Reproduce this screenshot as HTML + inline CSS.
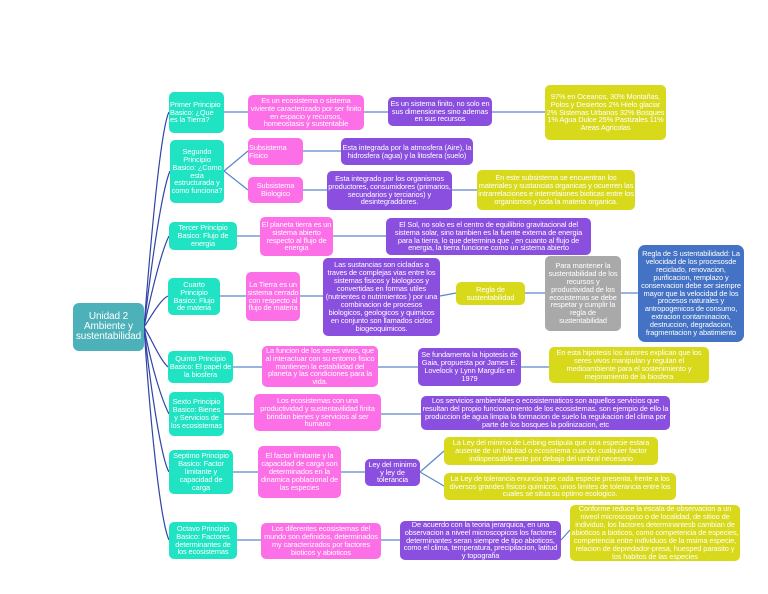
<!DOCTYPE html>
<html><head><meta charset="utf-8"><style>
body{margin:0;width:768px;height:594px;background:#fff;position:relative;overflow:hidden;font-family:"Liberation Sans",sans-serif}
.b{position:absolute;display:flex;align-items:center;justify-content:center;text-align:center;color:#fff;font-size:7.4px;line-height:7.9px;border-radius:5px;box-sizing:border-box;padding:0 1px;overflow:hidden;letter-spacing:-0.1px}
.c{background:#1fe3c3}.p{background:#fc6fe6}.u{background:#8a4fdf}.y{background:#d9d91c}
svg{position:absolute;left:0;top:0}
</style></head><body>
<svg width="768" height="594">
<g stroke="#2e44a8" stroke-width="1.2" fill="none">
<path d="M144 327 C150 250 160 130 169 112"/>
<path d="M144 327 C152 260 162 190 170 171"/>
<path d="M144 327 C152 290 162 250 169 236"/>
<path d="M144 327 C152 315 160 300 168 296"/>
<path d="M144 327 C152 340 160 360 168 367"/>
<path d="M144 327 C152 370 162 400 169 414"/>
<path d="M144 327 C152 400 162 460 169 472"/>
<path d="M144 327 C150 420 160 520 169 540"/>
</g>
<g stroke="#5a86cc" stroke-width="1.2" fill="none">
<path d="M224 112 H248"/><path d="M364 112 H388"/><path d="M492 112 H545"/>
<path d="M224 171 L248 151"/><path d="M224 171 L248 190"/>
<path d="M303 151 H341"/><path d="M303 190 H327"/><path d="M452 190 H477"/>
<path d="M237 236 H260"/><path d="M333 236 H386"/>
<path d="M220 296 H246"/><path d="M300 296 H323"/><path d="M440 296 L456 293"/><path d="M525 293 H545"/><path d="M621 293 H638"/>
<path d="M233 367 H262"/><path d="M378 367 H418"/><path d="M521 367 H549"/>
<path d="M224 414 H254"/><path d="M381 414 H421"/>
<path d="M233 472 H258"/><path d="M341 472 H365"/><path d="M420 472 L444 451"/><path d="M420 472 L444 486"/>
<path d="M237 540 H261"/><path d="M381 540 H400"/><path d="M561 540 L570 530"/>
</g>
</svg>
<div class="b" style="left:73px;top:303px;width:71px;height:48px;background:#4cb1b9;font-size:10px;line-height:10px;border-radius:6px">Unidad 2 Ambiente y sustentabilidad</div>

<div class="b c" style="left:169px;top:92px;width:55px;height:41px;text-align:left;justify-content:flex-start">Primer Principio Basico: ¿Que es la Tierra?</div>
<div class="b c" style="left:170px;top:140px;width:54px;height:63px">Segundo Principio Basico: ¿Como esta estructurada y como funciona?</div>
<div class="b c" style="left:169px;top:222px;width:68px;height:28px">Tercer Principio Basico: Flujo de energia</div>
<div class="b c" style="left:168px;top:278px;width:52px;height:37px">Cuarto Principio Basico: Flujo de materia</div>
<div class="b c" style="left:168px;top:351px;width:65px;height:32px">Quinto Principio Basico: El papel de la biosfera</div>
<div class="b c" style="left:169px;top:392px;width:55px;height:44px">Sexto Principio Basico: Bienes y Servicios de los ecosistemas</div>
<div class="b c" style="left:169px;top:450px;width:64px;height:44px">Septimo Principio Basico: Factor limitante y capacidad de carga</div>
<div class="b c" style="left:169px;top:522px;width:68px;height:37px">Octavo Principio Basico: Factores determinantes de los ecosistemas</div>

<div class="b p" style="left:248px;top:95px;width:116px;height:35px">Es un ecosistema o sistema viviente caracterizado por ser finito en espacio y recursos, homeostasis y sustentable</div>
<div class="b p" style="left:248px;top:138px;width:55px;height:27px;text-align:left;justify-content:flex-start">Subsistema Fisico</div>
<div class="b p" style="left:248px;top:177px;width:55px;height:26px">Subsistema Biologico</div>
<div class="b p" style="left:260px;top:217px;width:73px;height:39px">El planeta tierra es un sistema abierto respecto al flujo de energia</div>
<div class="b p" style="left:246px;top:272px;width:54px;height:49px">La Tierra es un sistema cerrado con respecto al flujo de materia</div>
<div class="b p" style="left:262px;top:346px;width:116px;height:41px">La funcion de los seres vivos, que al interactuar con su entorno fisico mantienen la estabilidad del planeta y las condiciones para la vida.</div>
<div class="b p" style="left:254px;top:394px;width:127px;height:37px">Los ecosistemas con una productividad y sustentavilidad finita brindan bienes y servicios al ser humano</div>
<div class="b p" style="left:258px;top:446px;width:83px;height:52px">El factor limitante y la capacidad de carga son determinados en la dinamica poblacional de las especies</div>
<div class="b p" style="left:261px;top:523px;width:120px;height:36px">Los diferentes ecosistemas del mundo son definidos, determinados my caracterizados por factores bioticos y abioticos</div>

<div class="b u" style="left:388px;top:97px;width:104px;height:29px">Es un sistema finito, no solo en sus dimensiones sino ademas en sus recursos</div>
<div class="b u" style="left:341px;top:138px;width:132px;height:27px">Esta integrada por la atmosfera (Aire), la hidrosfera (agua) y la litosfera (suelo)</div>
<div class="b u" style="left:327px;top:171px;width:125px;height:39px">Esta integrado por los organismos productores, consumidores (primarios, secundarios y terciarios) y desintegraddores.</div>
<div class="b u" style="left:386px;top:218px;width:205px;height:37px">El Sol, no solo es el centro de equilibrio gravitacional del sistema solar, sino tambien es la fuente externa de energia para la tierra, lo que determina que , en cuanto al flujo de energia, la tierra funcione como un sistema abierto</div>
<div class="b u" style="left:323px;top:258px;width:117px;height:78px">Las sustancias son cicladas a traves de complejas vias entre los sistemas fisicos y biologicos y convertidas en formas utiles (nutrientes o nutrimientos ) por una combinacion de procesos biologicos, geologicos y quimicos en conjunto son llamados ciclos biogeoquimicos.</div>
<div class="b u" style="left:418px;top:348px;width:103px;height:38px">Se fundamenta la hipotesis de Gaia, propuesta por James E. Lovelock y Lynn Margulis en 1979</div>
<div class="b u" style="left:421px;top:396px;width:249px;height:34px">Los servicios ambientales o ecosistematicos son aquellos servicios que resultan del propio funcionamiento de los ecosistemas. son ejempio de ello la produccion de agua limpia la formacion de suelo la regukacion del clima por parte de los bosques la polinizacion, etc</div>
<div class="b u" style="left:365px;top:459px;width:55px;height:27px">Ley del minimo y ley de tolerancia</div>
<div class="b u" style="left:400px;top:521px;width:161px;height:39px">De acuerdo con la teoria jerarquica, en una observacion a niveel microscopicos los factores determinantes seran siempre de tipo abioticos, como el clima, temperatura, precipitacion, latitud y topografia</div>

<div class="b y" style="left:545px;top:85px;width:121px;height:55px">97% en Oceanos, 30% Montañas, Polos y Desiertos 2% Hielo glaciar 2% Sistemas Urbanos 32% Bosques 1% Agua Dulce 25% Pastizales 11% Areas Agricolas</div>
<div class="b y" style="left:477px;top:170px;width:158px;height:40px">En este subsistema se encuentran los materiales y sustancias organicas y ocuerren las intrarrelaciones e interrelaiones bioticas entre los organismos y toda la materia organica.</div>
<div class="b y" style="left:456px;top:282px;width:69px;height:23px">Regla de sustentabilidad</div>
<div class="b y" style="left:549px;top:347px;width:160px;height:36px">En esta hipotesis los autores explican que los seres vivos manipulan y regulan el medioambiente para el sostenimiento y mejoramiento de la biosfera</div>
<div class="b y" style="left:444px;top:437px;width:214px;height:28px">La Ley del minimo de Leibing estipula que una especie estara ausente de un habitad o ecosistema cuando cualquier factor indispensable este por debajo del umbral necesario</div>
<div class="b y" style="left:444px;top:473px;width:232px;height:27px">La Ley de tolerancia enuncia que cada especie presenta, frente a los diversos grandes fisicos quimicos, unos limites de tolerancia entre los cuales se situa su optimo ecologico.</div>
<div class="b y" style="left:570px;top:505px;width:170px;height:56px">Conforme reduce la escala de observacion a un niveol microscopico o de localidad, de sitioo de individuo, los factores determinantesb cambian de abioticos a bioticos, como competencia de especies, competencia entre individuos de la msima especie, relacion de depredador-presa, huesped parasito y los habitos de las especies</div>

<div class="b" style="left:545px;top:256px;width:76px;height:75px;background:#a9a9a9">Para mantener la sustentabilidad de los recursos y productividad de los ecosistemas se debe respetar y cumplir la regla de sustentabilidad</div>
<div class="b" style="left:638px;top:245px;width:106px;height:97px;background:#4472c4;border-radius:7px">Regla de S ustentabilidadd: La velocidad de los procesosde reciclado, renovacion, purificacion, remplazo y conservacion debe ser siempre mayor que la velocidad de los procesos naturales y antropogenicos de consumo, extracion contaminacion, destruccion, degradacion, fragmentacion y abatimiento</div>
</body></html>
